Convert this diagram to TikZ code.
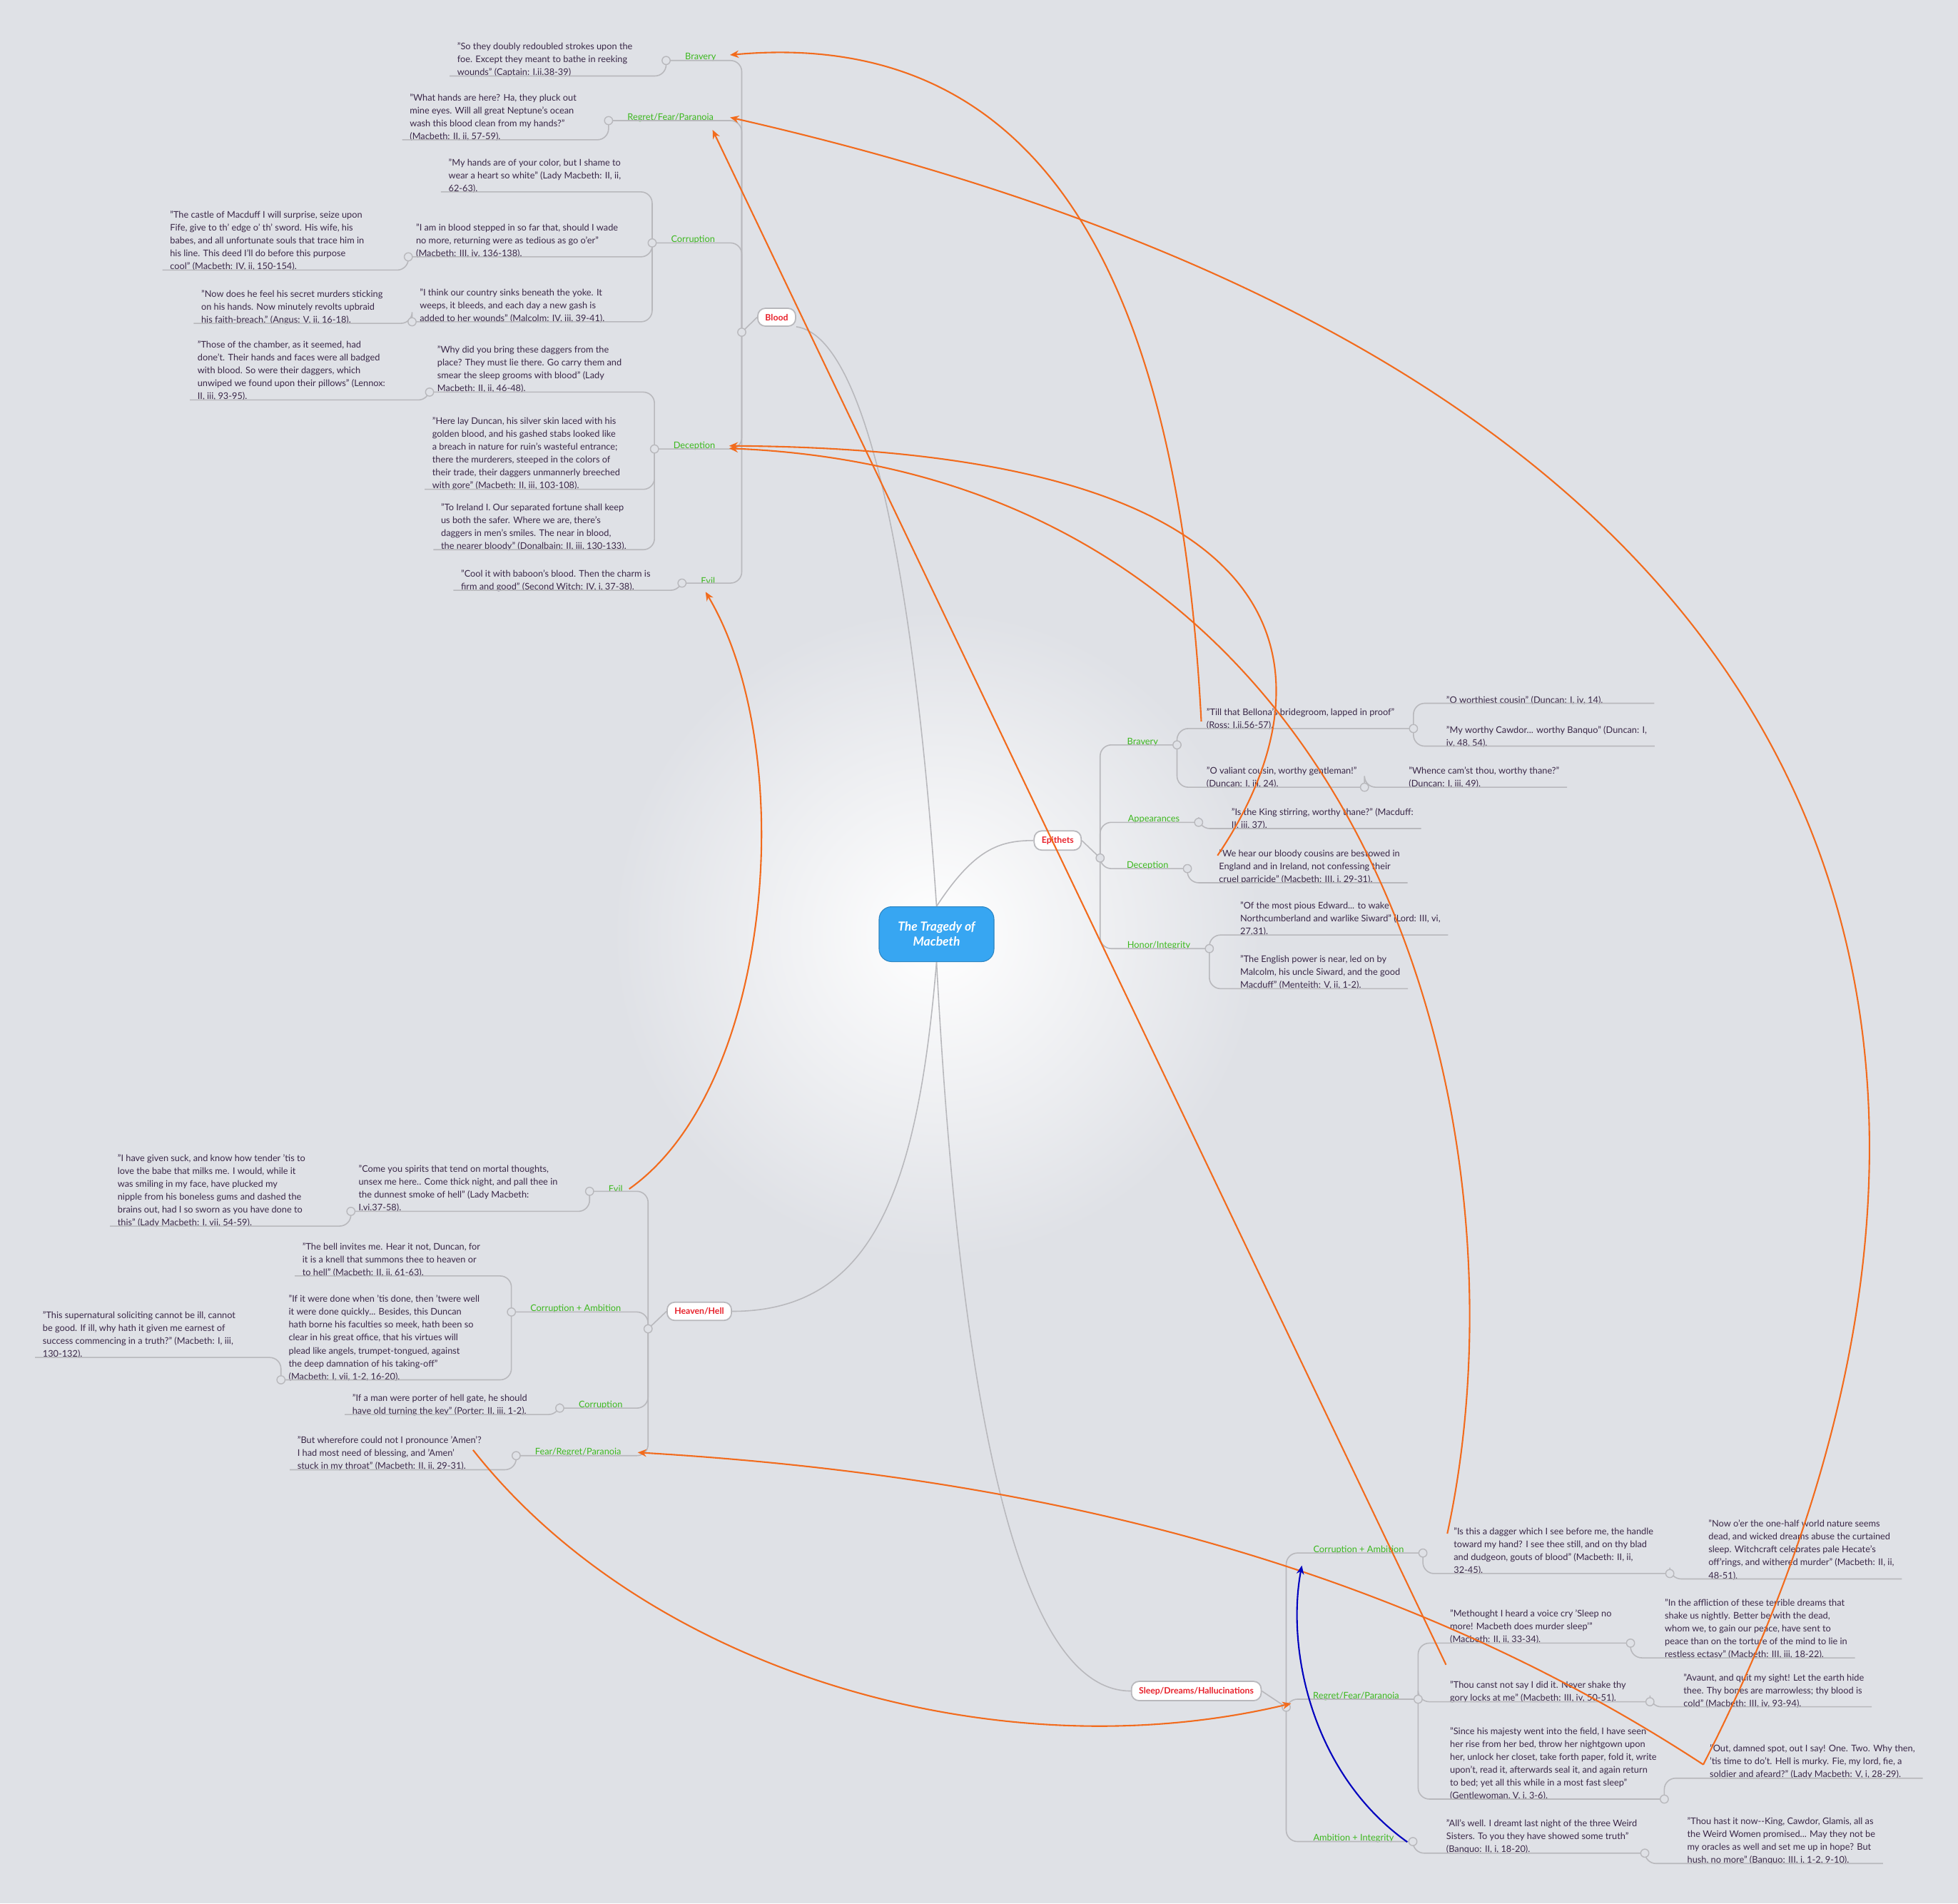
\documentclass[tikz,border=0pt]{standalone}
\usepackage{fontspec}
\setmainfont{Lato}
\usetikzlibrary{calc,arrows.meta}
\definecolor{bg}{HTML}{DFE1E6}
\definecolor{qtc}{HTML}{3A2848}
\definecolor{grn}{HTML}{3CB81E}
\definecolor{tred}{HTML}{E8202A}
\definecolor{org}{HTML}{F26B1D}
\definecolor{lnc}{HTML}{B8B8BC}
\definecolor{cblue}{HTML}{37A6F2}
\tikzset{
 qt/.style={anchor=north west,align=left,inner sep=1pt,text=qtc,font=\fontsize{7.3}{10.3}\selectfont},
 sub/.style={inner sep=1pt,text=grn,font=\fontsize{7.3}{9}\selectfont},
 topic/.style={draw=lnc,fill=white,rounded corners=6pt,text=tred,font=\fontsize{7}{8}\selectfont\bfseries,inner xsep=6pt,inner ysep=4.5pt,line width=1pt},
 ln/.style={draw=lnc,line width=0.9pt,rounded corners=9pt},
 dot/.style={circle,draw=lnc,fill=bg,line width=0.8pt,inner sep=0pt,minimum size=6.5pt},
 arr/.style={draw=org,line width=1.2pt,-{Stealth[length=7pt,width=6pt]}},
}
\newcommand\myQ[5]{\node[qt] (#1) at (#2,#3) {#4};
 \coordinate (#1-l) at ($(#1.south west)+(-5,-2)$);
 \coordinate (#1-r) at ($(#1.south east)+(#5,-2)$);}
\newcommand\myS[4]{\node[sub] (#1) at (#2,#3) {#4};
 \coordinate (#1-l) at ($(#1.south west)+(-14,-2)$);
 \coordinate (#1-r) at ($(#1.south east)+(14,-2)$);}
\newcommand\myC[2]{\draw[ln] (#1) |- (#2);}
\begin{document}
\begin{tikzpicture}[x=1pt,y=-1pt]
\useasboundingbox (0,0) rectangle (1568,1524);
\fill[bg] (0,0) rectangle (1568,1524);
\shade[inner color=white,outer color=bg] (750,748) circle (260);

% center and topics
\node[fill=cblue,draw=cblue!80!black,line width=0.6pt,rounded corners=10pt,text=white,font=\fontsize{10}{12}\selectfont\bfseries\itshape,align=center,minimum width=92pt,minimum height=44pt] (ctr) at (750,748) {The Tragedy of\\Macbeth};
\node[topic] (blood) at (622,254) {Blood};
\node[topic] (epi) at (847,673) {Epithets};
\node[topic] (hh) at (560,1050) {Heaven/Hell};
\node[topic] (sl) at (958,1354) {Sleep/Dreams/Hallucinations};
\draw[ln] (ctr.north) .. controls (735,500) and (700,270) .. (blood.south east);
\draw[ln] (ctr.north) .. controls (780,680) and (800,673) .. (epi.west);
\draw[ln] (ctr.south) .. controls (735,950) and (700,1050) .. (hh.east);
\draw[ln] (ctr.south) .. controls (770,1150) and (820,1354) .. (sl.west);
\coordinate (JB) at (594,266);
\coordinate (JE) at (881,687);
\coordinate (JH) at (519,1064);
\coordinate (JS) at (1030,1367);
\draw[ln] (blood.west) -- (JB); \draw[ln] (epi.east) -- (JE);
\draw[ln] (hh.west) -- (JH); \draw[ln] (sl.east) -- (JS);

% ---------- BLOOD ----------
\myS{bBrav}{561}{46}{Bravery}
\myS{bReg}{537}{94}{Regret/Fear/Paranoia}
\myS{bCor}{555}{192}{Corruption}
\myS{bDec}{556}{357}{Deception}
\myS{bEvil}{567}{465}{Evil}
\foreach \s in {bBrav,bReg,bCor,bDec,bEvil} {\draw[ln] (JB) |- (\s-l);}
\myQ{q1}{365}{33}{"So they doubly redoubled strokes upon the\\foe. Except they meant to bathe in reeking\\wounds" (Captain: I.ii.38-39)}{5}
\myQ{q2}{327}{74}{"What hands are here? Ha, they pluck out\\mine eyes. Will all great Neptune's ocean\\wash this blood clean from my hands?"\\(Macbeth: II, ii, 57-59).}{5}
\myQ{q3}{358}{126}{"My hands are of your color, but I shame to\\wear a heart so white" (Lady Macbeth: II, ii,\\62-63).}{5}
\myQ{q4}{332}{178}{"I am in blood stepped in so far that, should I wade\\no more, returning were as tedious as go o'er"\\(Macbeth: III, iv, 136-138).}{5}
\myQ{q5}{135}{168}{"The castle of Macduff I will surprise, seize upon\\Fife, give to th' edge o' th' sword. His wife, his\\babes, and all unfortunate souls that trace him in\\his line. This deed I'll do before this purpose\\cool" (Macbeth: IV, ii, 150-154).}{5}
\myQ{q6}{335}{230}{"I think our country sinks beneath the yoke. It\\weeps, it bleeds, and each day a new gash is\\added to her wounds" (Malcolm: IV, iii, 39-41).}{5}
\myQ{q7}{160}{231}{"Now does he feel his secret murders sticking\\on his hands. Now minutely revolts upbraid\\his faith-breach." (Angus: V, ii, 16-18).}{5}
\myQ{q8}{349}{276}{"Why did you bring these daggers from the\\place? They must lie there. Go carry them and\\smear the sleep grooms with blood" (Lady\\Macbeth: II, ii, 46-48).}{5}
\myQ{q9}{157}{272}{"Those of the chamber, as it seemed, had\\done't. Their hands and faces were all badged\\with blood. So were their daggers, which\\unwiped we found upon their pillows" (Lennox:\\II, iii, 93-95).}{5}
\myQ{q10}{345}{333}{"Here lay Duncan, his silver skin laced with his\\golden blood, and his gashed stabs looked like\\a breach in nature for ruin's wasteful entrance;\\there the murderers, steeped in the colors of\\their trade, their daggers unmannerly breeched\\with gore" (Macbeth: II, iii, 103-108).}{5}
\myQ{q11}{352}{402}{"To Ireland I. Our separated fortune shall keep\\us both the safer. Where we are, there's\\daggers in men's smiles. The near in blood,\\the nearer bloody" (Donalbain: II, iii, 130-133).}{5}
\myQ{q12}{368}{455}{"Cool it with baboon's blood. Then the charm is\\firm and good" (Second Witch: IV, i, 37-38).}{5}
\myC{bBrav-l}{q1-l} \myC{bReg-l}{q2-l}
\myC{bCor-l}{q3-l} \myC{bCor-l}{q4-l} \myC{bCor-l}{q6-l}
\myC{q4-l}{q5-l} \myC{q6-l}{q7-l}
\myC{bDec-l}{q8-l} \myC{bDec-l}{q10-l} \myC{bDec-l}{q11-l}
\myC{q8-l}{q9-l} \myC{bEvil-l}{q12-l}
\foreach \p in {bBrav-l,bReg-l,bCor-l,bDec-l,bEvil-l,q4-l,q6-l,q8-l,JB} \node[dot] at (\p) {};

% ---------- EPITHETS ----------
\myS{eBrav}{915}{594}{Bravery}
\myS{eApp}{924}{656}{Appearances}
\myS{eDec}{919}{693}{Deception}
\myS{eHon}{928}{757}{Honor/Integrity}
\foreach \s in {eBrav,eApp,eDec,eHon} {\draw[ln] (JE) |- (\s-r);}
\myQ{e1}{965}{566}{"Till that Bellona's bridegroom, lapped in proof"\\(Ross: I.ii.56-57).}{14}
\myQ{e2}{1157}{556}{"O worthiest cousin" (Duncan: I, iv, 14).}{40}
\myQ{e3}{1157}{580}{"My worthy Cawdor... worthy Banquo" (Duncan: I,\\iv, 48, 54).}{5}
\myQ{e4}{965}{613}{"O valiant cousin, worthy gentleman!"\\(Duncan: I, iii, 24).}{5}
\myQ{e5}{1127}{613}{"Whence cam'st thou, worthy thane?"\\(Duncan: I, iii, 49).}{5}
\myQ{e6}{985}{646}{"Is the King stirring, worthy thane?" (Macduff:\\II, iii, 37).}{5}
\myQ{e7}{975}{679}{"We hear our bloody cousins are bestowed in\\England and in Ireland, not confessing their\\cruel parricide" (Macbeth: III, i, 29-31).}{5}
\myQ{e8}{992}{721}{"Of the most pious Edward... to wake\\Northcumberland and warlike Siward" (Lord: III, vi,\\27,31).}{5}
\myQ{e9}{992}{764}{"The English power is near, led on by\\Malcolm, his uncle Siward, and the good\\Macduff" (Menteith: V, ii, 1-2).}{5}
\myC{eBrav-r}{e1-r} \myC{eBrav-r}{e4-r}
\myC{e1-r}{e2-r} \myC{e1-r}{e3-r} \myC{e4-r}{e5-r}
\myC{eApp-r}{e6-r} \myC{eDec-r}{e7-r}
\myC{eHon-r}{e8-r} \myC{eHon-r}{e9-r}
\foreach \p in {eBrav-r,eApp-r,eDec-r,eHon-r,e1-r,e4-r,JE} \node[dot] at (\p) {};

% ---------- HEAVEN/HELL ----------
\myS{hEvil}{493}{952}{Evil}
\myS{hCA}{461}{1048}{Corruption + Ambition}
\myS{hCor}{481}{1125}{Corruption}
\myS{hFear}{463}{1163}{Fear/Regret/Paranoia}
\foreach \s in {hEvil,hCA,hCor,hFear} {\draw[ln] (JH) |- (\s-l);}
\myQ{h1}{286}{932}{"Come you spirits that tend on mortal thoughts,\\unsex me here.. Come thick night, and pall thee in\\the dunnest smoke of hell" (Lady Macbeth:\\I.vi.37-58).}{5}
\myQ{h2}{93}{923}{"I have given suck, and know how tender 'tis to\\love the babe that milks me. I would, while it\\was smiling in my face, have plucked my\\nipple from his boneless gums and dashed the\\brains out, had I so sworn as you have done to\\this" (Lady Macbeth: I, vii, 54-59).}{5}
\myQ{h3}{241}{994}{"The bell invites me. Hear it not, Duncan, for\\it is a knell that summons thee to heaven or\\to hell" (Macbeth: II, ii, 61-63).}{5}
\myQ{h4}{230}{1036}{"If it were done when 'tis done, then 'twere well\\it were done quickly... Besides, this Duncan\\hath borne his faculties so meek, hath been so\\clear in his great office, that his virtues will\\plead like angels, trumpet-tongued, against\\the deep damnation of his taking-off"\\(Macbeth: I, vii, 1-2, 16-20).}{5}
\myQ{h5}{33}{1049}{"This supernatural soliciting cannot be ill, cannot\\be good. If ill, why hath it given me earnest of\\success commencing in a truth?" (Macbeth: I, iii,\\130-132).}{5}
\myQ{h6}{281}{1115}{"If a man were porter of hell gate, he should\\have old turning the key" (Porter: II, iii, 1-2).}{5}
\myQ{h7}{237}{1149}{"But wherefore could not I pronounce 'Amen'?\\I had most need of blessing, and 'Amen'\\stuck in my throat" (Macbeth: II, ii, 29-31).}{5}
\myC{hEvil-l}{h1-l} \myC{h1-l}{h2-l}
\myC{hCA-l}{h3-l} \myC{hCA-l}{h4-l} \myC{h4-l}{h5-l}
\myC{hCor-l}{h6-l} \myC{hFear-l}{h7-l}
\foreach \p in {hEvil-l,hCA-l,hCor-l,hFear-l,h1-l,h4-l,JH} \node[dot] at (\p) {};

% ---------- SLEEP ----------
\myS{sCA}{1088}{1241}{Corruption + Ambition}
\myS{sRF}{1086}{1358}{Regret/Fear/Paranoia}
\myS{sAI}{1084}{1472}{Ambition + Integrity}
\foreach \s in {sCA,sRF,sAI} {\draw[ln] (JS) |- (\s-r);}
\myQ{s1}{1163}{1222}{"Is this a dagger which I see before me, the handle\\toward my hand? I see thee still, and on thy blad\\and dudgeon, gouts of blood" (Macbeth: II, ii,\\32-45).}{12}
\myQ{s2}{1367}{1216}{"Now o'er the one-half world nature seems\\dead, and wicked dreams abuse the curtained\\sleep. Witchcraft celebrates pale Hecate's\\off'rings, and withered murder" (Macbeth: II, ii,\\48-51).}{5}
\myQ{s3}{1160}{1288}{"Methought I heard a voice cry 'Sleep no\\more! Macbeth does murder sleep'"\\(Macbeth: II, ii, 33-34).}{14}
\myQ{s4}{1332}{1279}{"In the affliction of these terrible dreams that\\shake us nightly. Better be with the dead,\\whom we, to gain our peace, have sent to\\peace than on the torture of the mind to lie in\\restless ectasy" (Macbeth: III, iii, 18-22).}{5}
\myQ{s5}{1160}{1345}{"Thou canst not say I did it. Never shake thy\\gory locks at me" (Macbeth: III, iv, 50-51).}{18}
\myQ{s6}{1347}{1339}{"Avaunt, and quit my sight! Let the earth hide\\thee. Thy bones are marrowless; thy blood is\\cold" (Macbeth: III, iv, 93-94).}{5}
\myQ{s7}{1160}{1382}{"Since his majesty went into the field, I have seen\\her rise from her bed, throw her nightgown upon\\her, unlock her closet, take forth paper, fold it, write\\upon't, read it, afterwards seal it, and again return\\to bed; yet all this while in a most fast sleep"\\(Gentlewoman, V, i, 3-6).}{5}
\myQ{s8}{1368}{1396}{"Out, damned spot, out I say! One. Two. Why then,\\'tis time to do't. Hell is murky. Fie, my lord, fie, a\\soldier and afeard?" (Lady Macbeth: V, i, 28-29).}{5}
\myQ{s9}{1157}{1456}{"All's well. I dreamt last night of the three Weird\\Sisters. To you they have showed some truth"\\(Banquo: II, i, 18-20).}{5}
\myQ{s10}{1350}{1454}{"Thou hast it now-{}-King, Cawdor, Glamis, all as\\the Weird Women promised... May they not be\\my oracles as well and set me up in hope? But\\hush, no more" (Banquo: III, i, 1-2, 9-10).}{5}
\myC{sCA-r}{s1-r} \myC{s1-r}{s2-r}
\myC{sRF-r}{s3-r} \myC{sRF-r}{s5-r} \myC{sRF-r}{s7-r}
\myC{s3-r}{s4-r} \myC{s5-r}{s6-r} \myC{s7-r}{s8-r}
\myC{sAI-r}{s9-r} \myC{s9-r}{s10-r}
\foreach \p in {sCA-r,sRF-r,sAI-r,s1-r,s3-r,s5-r,s7-r,s9-r,JS} \node[dot] at (\p) {};

% ---------- cross links ----------
\draw[arr] ($(e1.west)+(-3,2)$) .. controls (945,250) and (850,20) .. ($(bBrav.east)+(10,-2)$);
\draw[arr] ($(s8.west)+(-4,2)$) .. controls (1600,950) and (1620,330) .. ($(bReg.east)+(12,0)$);
\draw[arr] ($(s5.north west)+(-2,-12)$) -- ($(bReg.east)+(-2,10)$);
\draw[arr] ($(e7.north west)+(0,6)$) .. controls (1060,560) and (1080,360) .. ($(bDec.east)+(10,0)$);
\draw[arr] ($(s1.north west)+(-4,6)$) .. controls (1230,900) and (1100,380) .. ($(bDec.east)+(10,2)$);
\draw[arr] ($(hEvil.east)+(4,0)$) .. controls (620,870) and (640,600) .. ($(bEvil.south)+(-2,5)$);
\draw[arr] ($(s8.west)+(-4,2)$) .. controls (1100,1240) and (800,1180) .. ($(hFear.east)+(12,0)$);
\draw[arr] ($(h7.north east)+(-8,12)$) .. controls (520,1340) and (800,1420) .. ($(JS)+(4,-3)$);
\draw[draw=blue!75!black,line width=1.2pt,-{Stealth[length=7pt,width=6pt]}] ($(s9.west)+(-30,4)$) .. controls (1050,1420) and (1030,1320) .. ($(sCA.south west)+(-8,8)$);
\end{tikzpicture}
\end{document}
